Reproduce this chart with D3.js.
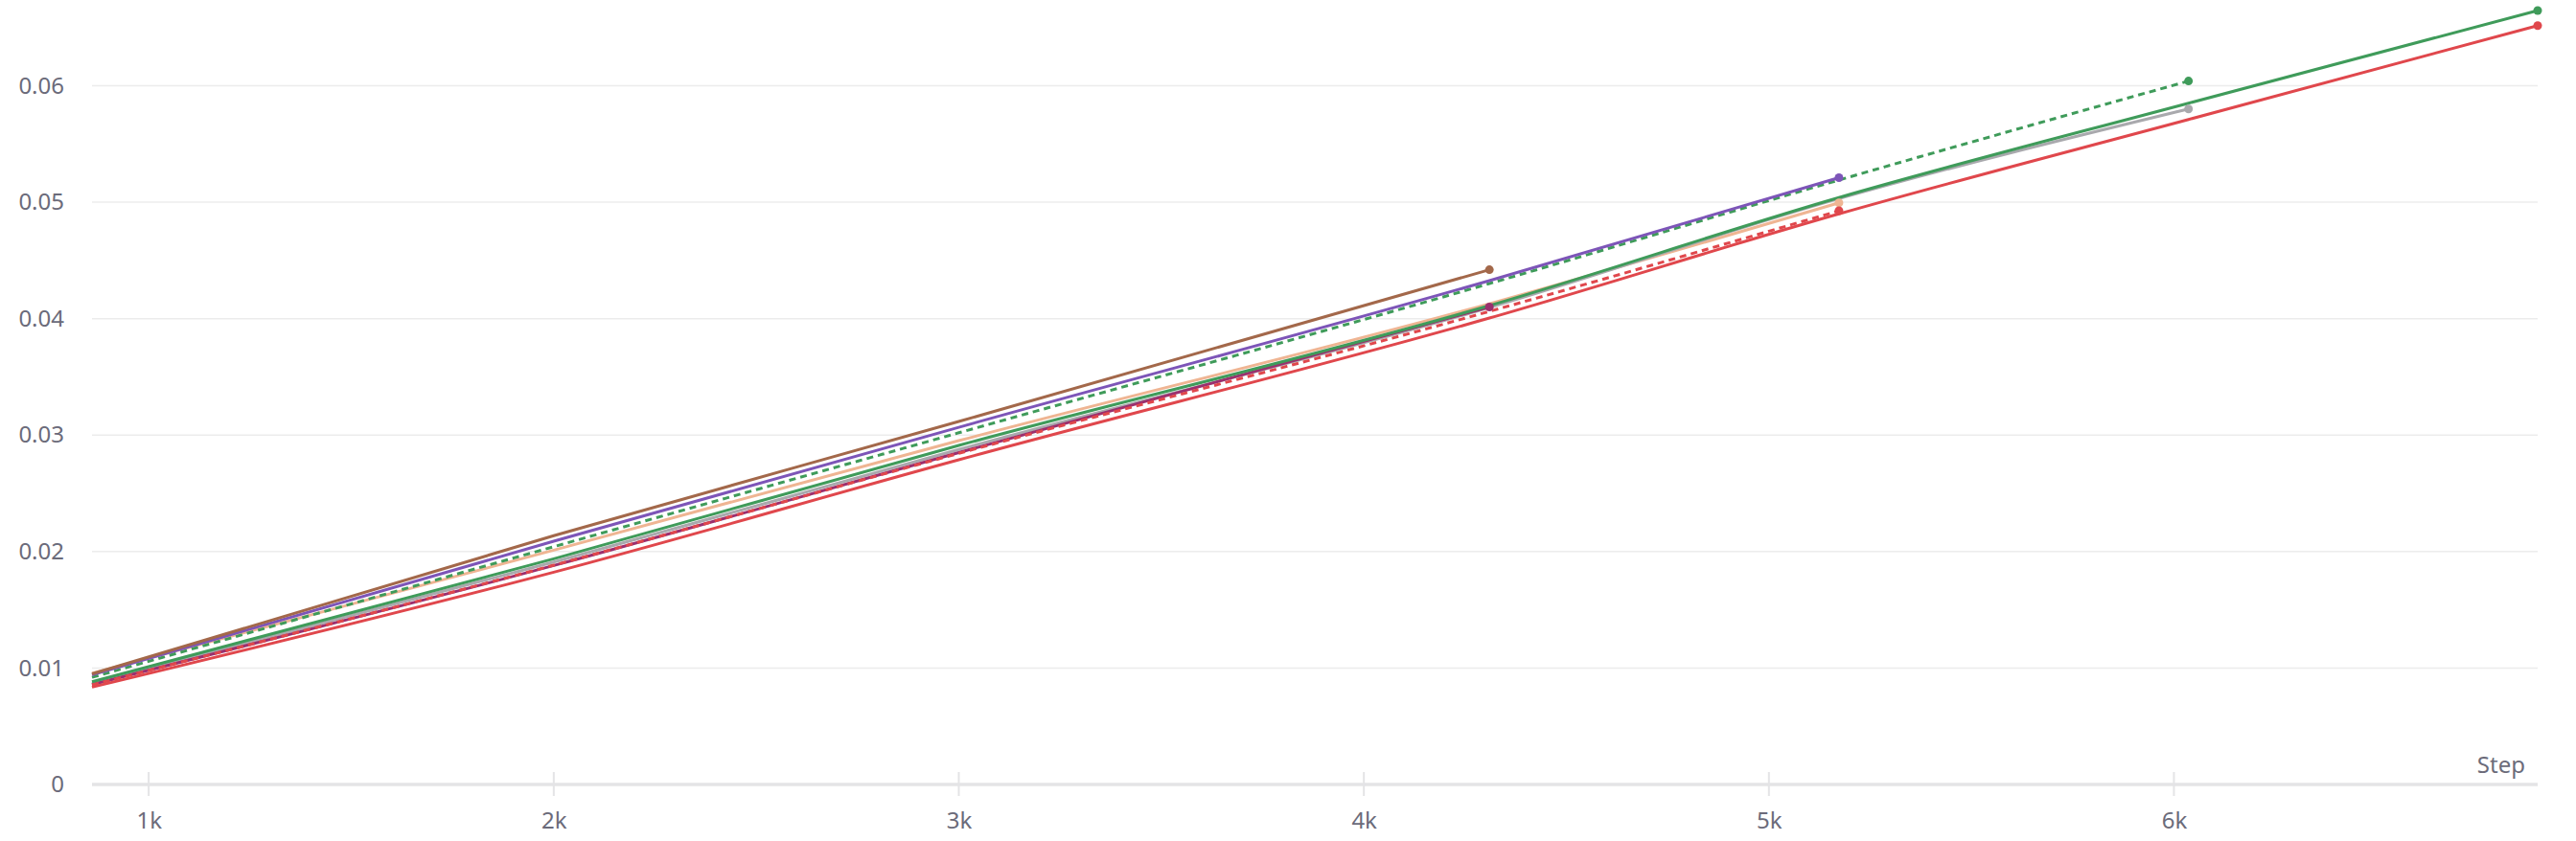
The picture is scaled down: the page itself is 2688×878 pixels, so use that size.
<!DOCTYPE html>
<html>
<head>
<meta charset="utf-8">
<script src="https://cdn.jsdelivr.net/npm/d3@7"></script>
<style>
  body { margin: 0; background: #fff; }
  svg text { font-family: "Noto Sans", sans-serif; fill: #6b6b7a; }
</style>
</head>
<body>
<div id="chart"></div>
<script>
var steps = [860, 2000, 3000, 4310, 5173, 6036, 6898];

// series values (each ends at its last step)
var peach       = [0.00955, 0.02012, 0.02952, 0.04128, 0.04994];
var gray        = [0.00865, 0.01910, 0.02876, 0.04095, 0.05030, 0.05800];
var magenta     = [0.00858, 0.01880, 0.02850, 0.04100];
var brown       = [0.00950, 0.02136, 0.03117, 0.04420];
var purple      = [0.00942, 0.02089, 0.03067, 0.04326, 0.05210];
var greenDashed = [0.00920, 0.02042, 0.03020, 0.04301, 0.05190, 0.06040];
var redDashed   = [0.00855, 0.01883, 0.02843, 0.04062, 0.04926];
var greenSolid  = [0.00882, 0.01938, 0.02911, 0.04112, 0.05040, 0.05850, 0.06645];
var redSolid    = [0.00836, 0.01823, 0.02788, 0.04005, 0.04900, 0.05710, 0.06516];

var yTicks = [0, 0.01, 0.02, 0.03, 0.04, 0.05, 0.06];
var xTicks = [1000, 2000, 3000, 4000, 5000, 6000];

var series = [
  { values: peach,       color: "#efb593", dash: null },
  { values: gray,        color: "#a9a9ad", dash: null },
  { values: magenta,     color: "#9b2f6e", dash: null },
  { values: redDashed,   color: "#e0474c", dash: "7,5" },
  { values: greenSolid,  color: "#3f9b5a", dash: null },
  { values: redSolid,    color: "#e0474c", dash: null },
  { values: greenDashed, color: "#3f9b5a", dash: "7,5" },
  { values: purple,      color: "#7d55b8", dash: null },
  { values: brown,       color: "#a3684a", dash: null }
];

var svgWidth = 2688, svgHeight = 878;
var svg = d3.select("#chart").append("svg")
  .attr("width", svgWidth)
  .attr("height", svgHeight);

var xScale = d3.scaleLinear()
  .domain(d3.extent(steps))
  .range([96, 2648]);

var yScale = d3.scaleLinear()
  .domain([0, 0.0667])
  .range([819, 8]);

// grid lines
svg.append("g")
  .selectAll("line")
  .data(yTicks.filter(d => d > 0))
  .enter()
  .append("line")
  .attr("x1", 96)
  .attr("x2", 2648)
  .attr("y1", d => yScale(d))
  .attr("y2", d => yScale(d))
  .attr("stroke", "#ececec")
  .attr("stroke-width", 1.5);

// y axis labels
var leftAxis = d3.axisLeft(yScale).tickValues(yTicks)
  .tickFormat(d => d === 0 ? "0" : d3.format(".2f")(d))
  .tickSize(0).tickPadding(0);
var yAxisG = svg.append("g")
  .attr("transform", "translate(67,0)")
  .call(leftAxis);
yAxisG.select(".domain").remove();
yAxisG.selectAll("text")
  .attr("font-size", "24px")
  .attr("fill", "#6b6b7a")
  .attr("font-family", "Noto Sans, sans-serif");

// x axis
var bottomAxis = d3.axisBottom(xScale).tickValues(xTicks)
  .tickFormat(d => (d / 1000) + "k")
  .tickSize(0).tickPadding(0);
var xAxisG = svg.append("g")
  .attr("transform", "translate(0,819)")
  .call(bottomAxis);
xAxisG.select(".domain").remove();
xAxisG.selectAll("text")
  .attr("y", 29)
  .attr("dy", "0.71em")
  .attr("font-size", "24px")
  .attr("fill", "#6b6b7a")
  .attr("font-family", "Noto Sans, sans-serif");

svg.append("line")
  .attr("x1", 96).attr("x2", 2648)
  .attr("y1", 819).attr("y2", 819)
  .attr("stroke", "#e4e4e6")
  .attr("stroke-width", 3.5);

svg.append("g")
  .selectAll("line")
  .data(xTicks)
  .enter()
  .append("line")
  .attr("x1", d => xScale(d))
  .attr("x2", d => xScale(d))
  .attr("y1", 806)
  .attr("y2", 831)
  .attr("stroke", "#e4e4e6")
  .attr("stroke-width", 2);

svg.append("text")
  .attr("x", 2635)
  .attr("y", 807)
  .attr("text-anchor", "end")
  .attr("font-size", "24px")
  .text("Step");

// lines
var line = d3.line()
  .x((d, i) => xScale(steps[i]))
  .y(d => yScale(d))
  .curve(d3.curveMonotoneX);

var lineG = svg.append("g");
series.forEach(function(s) {
  lineG.append("path")
    .datum(s.values)
    .attr("d", line)
    .attr("fill", "none")
    .attr("stroke", s.color)
    .attr("stroke-width", 3)
    .attr("stroke-dasharray", s.dash);
});

// end dots
series.forEach(function(s) {
  var last = s.values.length - 1;
  lineG.append("circle")
    .attr("cx", xScale(steps[last]))
    .attr("cy", yScale(s.values[last]))
    .attr("r", 4.5)
    .attr("fill", s.color);
});
</script>
</body>
</html>
